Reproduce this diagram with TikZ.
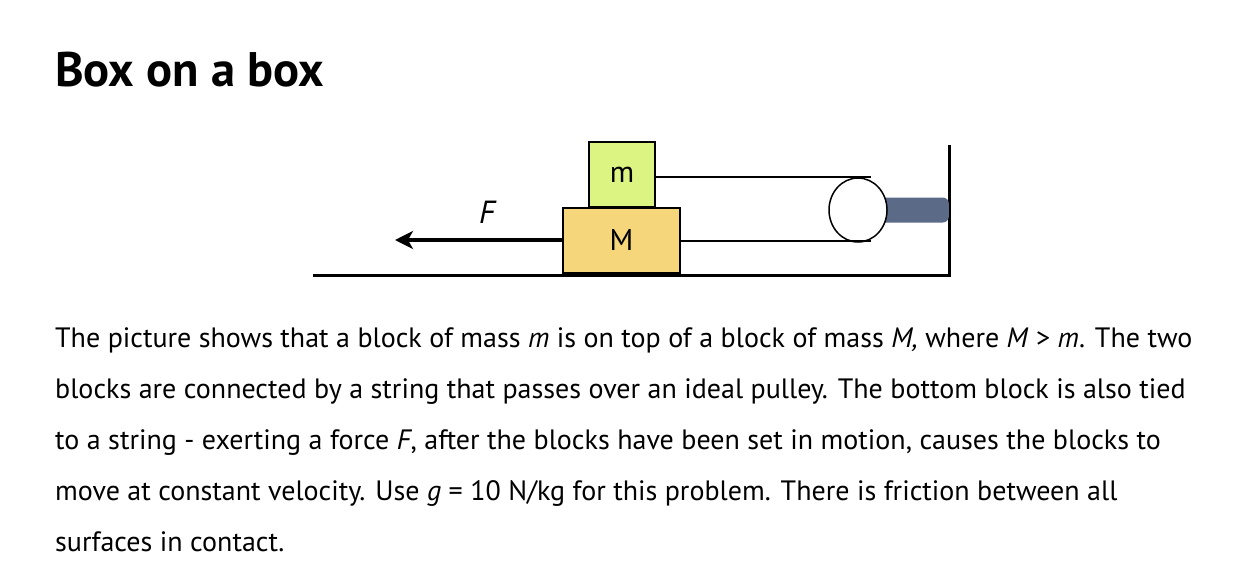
\documentclass[tikz,border=0pt]{standalone}
\usepackage{fontspec}
\setmainfont{PT Sans}
\usetikzlibrary{shapes.geometric,arrows.meta}
\begin{document}
\begin{tikzpicture}[x=1pt,y=-1pt,
  txt/.style={anchor=base west,inner sep=0pt,font=\fontsize{28}{30}\selectfont},
  blk/.style={draw,line width=2.2pt,minimum width=0pt,inner sep=0pt},
  str/.style={line width=2.2pt}]
\useasboundingbox (0,0) rectangle (1246,578);
\node[anchor=base west,inner sep=0pt,font=\fontsize{48.5}{50}\selectfont\bfseries] (title) at (55,86) {Box on a box};
% ground and wall
\coordinate (g1) at (313,275); \coordinate (g2) at (949,275); \coordinate (w) at (949,145);
\draw[line width=3pt] (g1) -- (g2) -- (w);
% blocks
\node[blk,fill={rgb,255:red,246;green,214;blue,122},minimum width=117pt,minimum height=65pt,anchor=south west,font=\fontsize{30}{30}\selectfont] (M) at (562,274) {M};
\node[blk,fill={rgb,255:red,220;green,244;blue,130},minimum width=66pt,minimum height=65pt,anchor=south west,font=\fontsize{30}{30}\selectfont] (m) at (588,208) {m};
% rod
\node[draw=none,fill={rgb,255:red,90;green,106;blue,135},rounded corners=6pt,minimum width=70pt,minimum height=25pt,anchor=east,inner sep=0pt] (rod) at (949,210) {};
% pulley
\node[draw,fill=white,ellipse,line width=1.5pt,minimum width=58pt,minimum height=64pt,inner sep=0pt] (p) at (858,210) {};
\coordinate (pt) at (871,177); \coordinate (pb) at (871,241);
\draw[str] (m.east |- pt) -- (pt);
\draw[str] (M.east |- pb) -- (pb);
% F arrow
\coordinate (fa) at (395,240);
\draw[line width=3.5pt,-{Stealth[length=18pt,width=18pt,inset=5pt]}] (M.west |- fa) -- (fa);
\node[font=\fontsize{32}{32}\selectfont\itshape] (F) at (487,212) {F};
% paragraph
\node[txt] (l1) at (55,347) {The picture shows that a block of mass \textit{m} is on top of a block of mass \textit{M,} where \textit{M} > \textit{m}. The two};
\node[txt] (l2) at (55,398) {blocks are connected by a string that passes over an ideal pulley. The bottom block is also tied};
\node[txt] (l3) at (55,449) {to a string - exerting a force \textit{F}, after the blocks have been set in motion, causes the blocks to};
\node[txt] (l4) at (55,500) {move at constant velocity. Use \textit{g} = 10 N/kg for this problem. There is friction between all};
\node[txt] (l5) at (55,551) {surfaces in contact.};
\end{tikzpicture}
\end{document}
